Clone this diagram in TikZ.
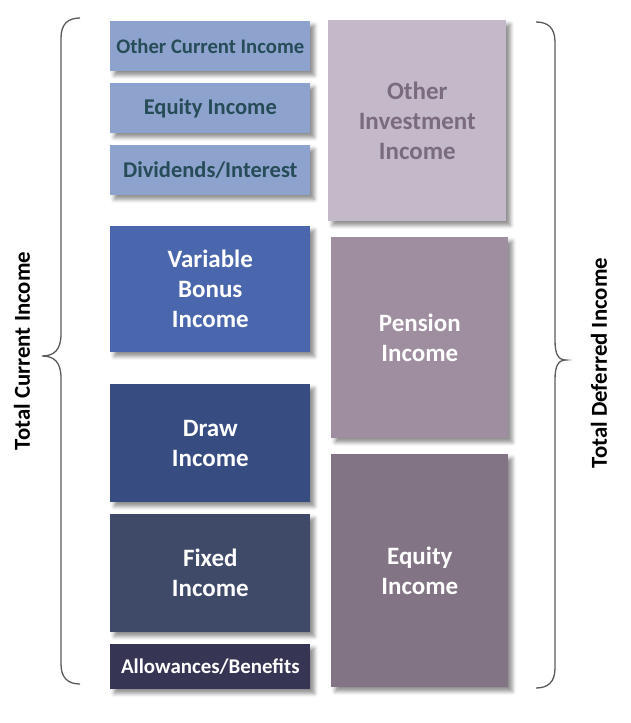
\documentclass[tikz,border=0pt]{standalone}
\usepackage{fontspec}
\setmainfont{Carlito}
\usetikzlibrary{shadows.blur}

\definecolor{paleblue}{RGB}{142,162,206}
\definecolor{midblue}{RGB}{74,102,172}
\definecolor{darkblue}{RGB}{55,76,128}
\definecolor{slateblue}{RGB}{63,74,104}
\definecolor{navyblue}{RGB}{54,53,83}
\definecolor{tealtext}{RGB}{38,76,88}
\definecolor{palemauve}{RGB}{195,185,200}
\definecolor{midmauve}{RGB}{158,142,159}
\definecolor{darkmauve}{RGB}{130,116,132}
\definecolor{mauvetext}{RGB}{123,107,127}
\definecolor{bracegray}{RGB}{90,90,90}

\begin{document}
\begin{tikzpicture}[x=1pt,y=-1pt,semithick,
  box/.style={rectangle,anchor=north west,inner sep=0pt,align=center,text=white,
    font=\bfseries\fontsize{25}{30}\selectfont,
    blur shadow={shadow xshift=4pt,shadow yshift=-4pt,shadow blur radius=4pt,shadow opacity=45}},
  bracket/.style={draw=bracegray,line width=1.3pt}]
\tikzstyle{small box}=[box,minimum width=200pt,minimum height=50pt,fill=paleblue,text=tealtext,
  font=\bfseries\fontsize{22.5}{27}\selectfont]
\tikzstyle{side label}=[rotate=90,font=\bfseries\fontsize{22.8}{27}\selectfont]
\useasboundingbox (0,0) rectangle (631,723);
% current income column
\node[small box,font=\bfseries\fontsize{20.7}{25}\selectfont] (other) at (110,21) {Other Current Income};
\node[small box] (equity) at (110,83) {Equity Income};
\node[small box] (dividends) at (110,145) {Dividends/Interest};
\node[box,minimum width=200pt,minimum height=126pt,fill=midblue] (variable) at (110,226) {Variable\\Bonus\\Income};
\node[box,minimum width=200pt,minimum height=118pt,fill=darkblue] (draw) at (110,384) {Draw\\Income};
\node[box,minimum width=200pt,minimum height=118pt,fill=slateblue] (fixed) at (110,514) {Fixed\\Income};
\node[box,minimum width=200pt,minimum height=45pt,fill=navyblue,font=\bfseries\fontsize{20.9}{25}\selectfont] (allowances) at (110,644) {Allowances/Benefits};
% deferred income column
\node[box,minimum width=178pt,minimum height=201pt,fill=palemauve,text=mauvetext] (investment) at (328,20) {Other\\Investment\\Income};
\node[box,minimum width=177pt,minimum height=201pt,fill=midmauve] (pension) at (331,237) {Pension\\Income};
\node[box,minimum width=177pt,minimum height=233pt,fill=darkmauve] (equitydef) at (331,454) {Equity\\Income};
% braces
\draw[bracket] (80,18) .. controls (68,18) and (61,24) .. (61,38) -- (61,334)
  .. controls (61,350) and (54,356) .. (42,356) .. controls (54,356) and (61,362) .. (61,378)
  -- (61,664) .. controls (61,678) and (68,684) .. (80,684);
\draw[bracket] (536,22) .. controls (548,22) and (555,28) .. (555,42) -- (555,340)
  .. controls (555,354) and (558,360) .. (566,360) .. controls (558,360) and (555,366) .. (555,380)
  -- (555,668) .. controls (555,682) and (548,688) .. (536,688);
\node[side label] (current) at (22,351) {Total Current Income};
\node[side label] (deferred) at (599,363) {Total Deferred Income};
\end{tikzpicture}
\end{document}
